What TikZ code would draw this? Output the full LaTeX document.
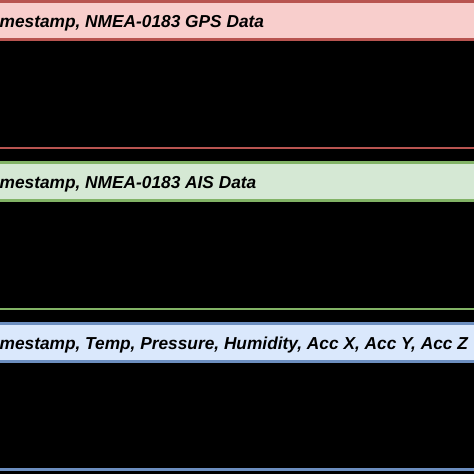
\documentclass[tikz,border=0pt]{standalone}
\usepackage{fontspec}
\setmainfont{Liberation Sans}
\definecolor{redfill}{HTML}{F8CECC}\definecolor{redline}{HTML}{B85450}
\definecolor{greenfill}{HTML}{D5E8D4}\definecolor{greenline}{HTML}{82B366}
\definecolor{bluefill}{HTML}{DAE8FC}\definecolor{blueline}{HTML}{6C8EBF}
\tikzset{
  lane/.style={line width=2.5bp},
  hdrtext/.style={anchor=base west, inner sep=0pt, text=black,
    font=\fontsize{17.3bp}{20bp}\selectfont\bfseries\itshape},
}
\begin{document}
\begin{tikzpicture}[x=1bp,y=-1bp]
\useasboundingbox (0,0) rectangle (474,474);
\fill[black] (0,0) rectangle (474,474);
\clip (0,0) rectangle (474,474);
% red lane
\draw[lane, draw=redline, fill=redfill] (-20,1.5) rectangle (494,39.5);
\draw[lane, draw=redline] (-20,39.5) rectangle (494,148);
\node[hdrtext] (gps) at (-15.6,27.5) {Timestamp, NMEA-0183 GPS Data};
% green lane
\draw[lane, draw=greenline, fill=greenfill] (-20,162.5) rectangle (494,200.5);
\draw[lane, draw=greenline] (-20,200.5) rectangle (494,309);
\node[hdrtext] (ais) at (-15.6,188.5) {Timestamp, NMEA-0183 AIS Data};
% blue lane
\draw[lane, draw=blueline, fill=bluefill] (-20,323.5) rectangle (494,361.5);
\draw[lane, draw=blueline] (-20,361.5) rectangle (494,469.5);
\node[hdrtext] (env) at (-15.6,349.5) {Timestamp, Temp, Pressure, Humidity, Acc X, Acc Y, Acc Z};
\end{tikzpicture}
\end{document}
